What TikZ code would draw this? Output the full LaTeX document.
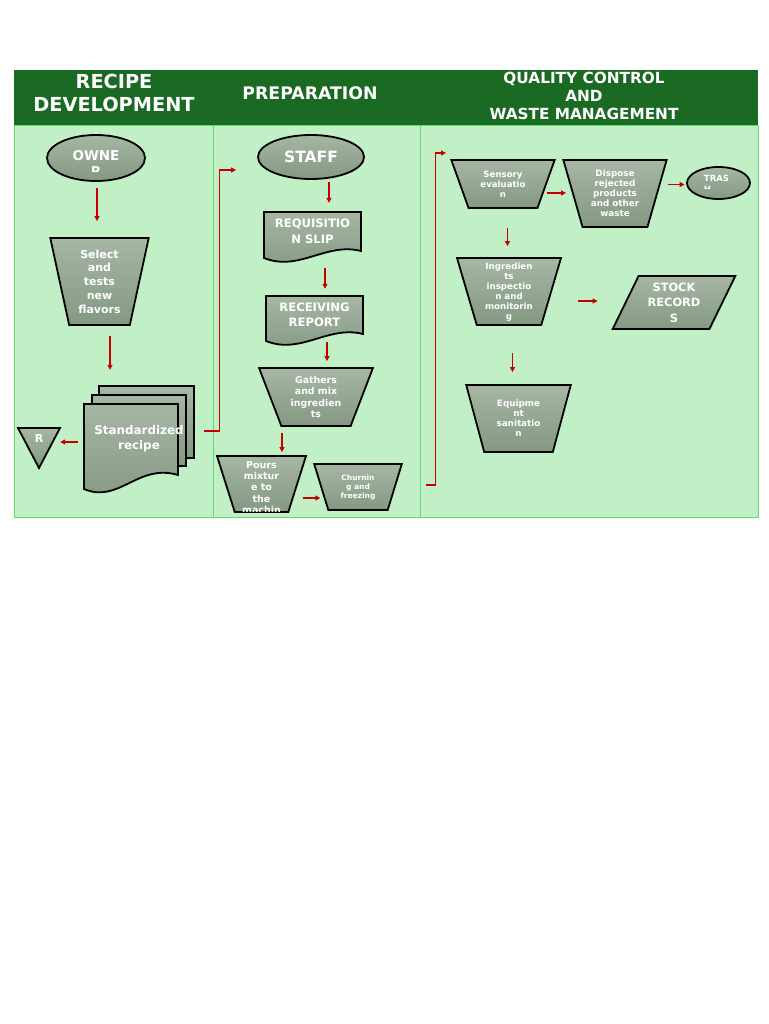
\documentclass[tikz,border=0pt]{standalone}
\usepackage{fontspec}
\setmainfont{DejaVu Sans}
\usetikzlibrary{shapes.geometric,arrows.meta,calc}

\definecolor{headgreen}{RGB}{27,106,35}
\definecolor{panelgreen}{RGB}{193,240,199}
\definecolor{rulegreen}{RGB}{98,218,108}
\definecolor{boxtop}{RGB}{166,183,164}
\definecolor{boxbottom}{RGB}{132,152,130}
\definecolor{flowred}{RGB}{196,0,0}

\newcommand{\fsz}[2]{\bfseries\fontsize{#1}{#2}\selectfont}

\begin{document}
\begin{tikzpicture}[x=1pt, y=-1pt,
  shapebox/.style={draw=black, line width=1.8pt, top color=boxtop, bottom color=boxbottom, text=white, align=center, inner sep=0pt},
  term/.style={shapebox, ellipse},
  proc/.style={shapebox, trapezium, trapezium stretches=true},
  docfill/.style={draw=black, line width=1.8pt, top color=boxtop, bottom color=boxbottom},
  docnode/.style={text=white, align=center, inner sep=0pt},
  txt/.style={text=white, align=center, inner sep=0pt},
  flow/.style={draw=flowred, line width=1.3pt, -{Triangle[length=5pt,width=5pt]}}]

  % Page and lanes
  \useasboundingbox (0,0) rectangle (768,1024);
  \fill[white] (0,0) rectangle (768,1024);
  \fill[headgreen] (14,70) rectangle (758,125);
  \filldraw[fill=panelgreen, draw=rulegreen, line width=0.8pt] (14,125) rectangle (758,517);
  \draw[rulegreen, line width=0.8pt] (213,125) -- (213,517) (420,125) -- (420,517);

  \node[txt, font=\fsz{19.3}{23}] (headrecipe) at (114,92.5) {RECIPE\\DEVELOPMENT};
  \node[txt, font=\fsz{17.3}{20}] (headprep) at (310,93) {PREPARATION};
  \node[txt, font=\fsz{15.3}{18}] (headquality) at (584,96) {QUALITY CONTROL\\AND\\WASTE MANAGEMENT};

  % Recipe development
  \node[term, minimum width=98pt, minimum height=46pt] (owner) at (96,158) {};
  \begin{scope}
    \clip (40,140) rectangle (150,171.5);
    \node[txt, font=\fsz{13.5}{16}] (ownertext) at (96,163) {OWNE\\R};
  \end{scope}

  \node[proc, trapezium left angle=101.7, trapezium right angle=101.7, minimum width=99pt, minimum height=87pt,
        font=\fsz{11}{13.75}] (select) at (99.5,281.5) {Select\\and\\tests\\new\\flavors};

  \filldraw[docfill] (99,386) rectangle (194,458);
  \filldraw[docfill] (92,395) rectangle (186,466);
  \filldraw[docfill] (84,404) -- (178,404) -- (178,475) .. controls (138,463) and (119,504) .. (84,489) -- cycle;
  \node[docnode, minimum width=94pt, minimum height=70pt] (stack) at (131,439) {};
  \node[txt, font=\fsz{11.9}{15}] (recipe) at (139,438.5) {Standardized\\recipe};

  \filldraw[docfill] (18,428) -- (60,428) -- (39,468) -- cycle;
  \node[txt, minimum width=42pt, font=\fsz{11}{13}] (rnode) at (39,438) {R};

  % Preparation
  \node[term, minimum width=106pt, minimum height=44pt, font=\fsz{15.5}{17}] (staff) at (311,157) {STAFF};

  \filldraw[docfill] (264,212) -- (361,212) -- (361,251) .. controls (326,242) and (299,272) .. (264,258) -- cycle;
  \node[docnode, minimum width=97pt, minimum height=38pt, font=\fsz{11.6}{16}] (req) at (312.5,231) {REQUISITIO\\N SLIP};

  \filldraw[docfill] (266,296) -- (363,296) -- (363,334) .. controls (328,325) and (301,355) .. (266,341) -- cycle;
  \node[docnode, minimum width=97pt, minimum height=37pt, font=\fsz{11.6}{15}] (rec) at (314.5,314.5) {RECEIVING\\REPORT};

  \node[proc, trapezium left angle=111.6, trapezium right angle=111.6, minimum width=114pt, minimum height=58pt,
        font=\fsz{9.4}{11.3}] (gather) at (316,397) {Gathers\\and mix\\ingredien\\ts};

  \node[proc, inner sep=2pt, trapezium left angle=108.3, trapezium right angle=108.3, minimum width=89pt, minimum height=56pt] (pours) at (261.5,484) {};
  \begin{scope}
    \clip (217,456) rectangle (306,511);
    \node[txt, font=\fsz{9.5}{11.3}] (pourstext) at (261.5,487.5) {Pours\\mixtur\\e to\\the\\machin};
  \end{scope}

  \node[proc, trapezium left angle=108.1, trapezium right angle=108.1, minimum width=88pt, minimum height=46pt,
        font=\fsz{7.5}{9}] (churn) at (358,487) {Churnin\\g and\\freezing};

  % Quality control and waste management
  \node[proc, trapezium left angle=113.1, trapezium right angle=113.1, minimum width=104pt, minimum height=48pt,
        font=\fsz{8.6}{10}] (sensory) at (503,184) {Sensory\\evaluatio\\n};
  \node[proc, trapezium left angle=107, trapezium right angle=107, minimum width=104pt, minimum height=67pt,
        font=\fsz{8.8}{10}] (dispose) at (615,193.5) {Dispose\\rejected\\products\\and other\\waste};

  \node[term, minimum width=63pt, minimum height=32pt] (trash) at (718.5,183) {};
  \begin{scope}
    \clip (690,170) rectangle (748,189);
    \node[txt, align=left, font=\fsz{8.5}{11}] (trashtext) at (716.5,183.5) {TRAS\\H};
  \end{scope}

  \node[proc, inner sep=2pt, trapezium left angle=107, trapezium right angle=107, minimum width=104pt, minimum height=67pt] (ingred) at (509,291.5) {};
  \begin{scope}
    \clip (460,258) rectangle (560,320.3);
    \node[txt, font=\fsz{8.7}{10}] (ingredtext) at (509,292) {Ingredien\\ts\\inspectio\\n and\\monitorin\\g};
  \end{scope}

  \node[proc, trapezium left angle=64, trapezium right angle=116, minimum width=123pt, minimum height=53pt,
        font=\fsz{11.4}{15.5}] (stock) at (674,302.5) {STOCK\\RECORD\\S};

  \node[proc, trapezium left angle=107.4, trapezium right angle=107.4, minimum width=105pt, minimum height=67pt,
        font=\fsz{8.8}{10}] (equip) at (518.5,418.5) {Equipme\\nt\\sanitatio\\n};

  % Flow arrows
  \draw[flow, shorten <=6pt, shorten >=16pt] ([xshift=1pt]owner.south) -- ([xshift=1pt]owner.south |- select.north);
  \draw[flow, shorten <=10pt, shorten >=34pt] ([xshift=10.5pt]select.south) -- ([xshift=10.5pt]select.south |- stack.north);
  \draw[flow, shorten <=6pt] ([yshift=-3pt]stack.west) -- ([yshift=-3pt]stack.west -| rnode.east);
  \draw[flow] ($(stack.east)+(26,-8)$) -- ++(15,0) |- ($(staff.west)+(-21,13)$);

  \draw[flow, shorten <=2pt, shorten >=9pt] ([xshift=18pt]staff.south) -- ([xshift=18pt]staff.south |- req.north);
  \draw[flow, shorten <=18pt, shorten >=7pt] ([xshift=12.5pt]req.south) -- ([xshift=12.5pt]req.south |- rec.north);
  \draw[flow, shorten <=9pt, shorten >=6pt] ([xshift=12.5pt]rec.south) -- ([xshift=12.5pt]rec.south |- gather.north);
  \draw[flow, shorten <=6pt, shorten >=3pt] ([xshift=-34pt]gather.south) -- ([xshift=-34pt]gather.south |- pours.north);
  \draw[flow, shorten <=4.5pt] ([yshift=-14pt]pours.east) -- ([yshift=-14pt]pours.east -| churn.west);
  \draw[flow] ($(churn.east)+(30,-2)$) -- ++(10,0) |- ($(sensory.west)+(-13,-31)$);

  \draw[flow, shorten >=6pt] ([yshift=-9pt]sensory.east) -- ([yshift=-9pt]sensory.east -| dispose.west);
  \draw[flow, shorten <=10pt, shorten >=1.5pt] ([yshift=9pt]dispose.east) -- ([yshift=9pt]dispose.east -| trash.west);
  \draw[flow, shorten <=19pt, shorten >=11pt] ([xshift=4.5pt]sensory.south) -- ([xshift=4.5pt]sensory.south |- ingred.north);
  \draw[flow, shorten <=25.5pt, shorten >=27pt] ([yshift=-9.5pt]ingred.east) -- ([yshift=-9.5pt]ingred.east -| stock.west);
  \draw[flow, shorten <=27pt, shorten >=12pt] ([xshift=3.5pt]ingred.south) -- ([xshift=3.5pt]ingred.south |- equip.north);
\end{tikzpicture}
\end{document}
